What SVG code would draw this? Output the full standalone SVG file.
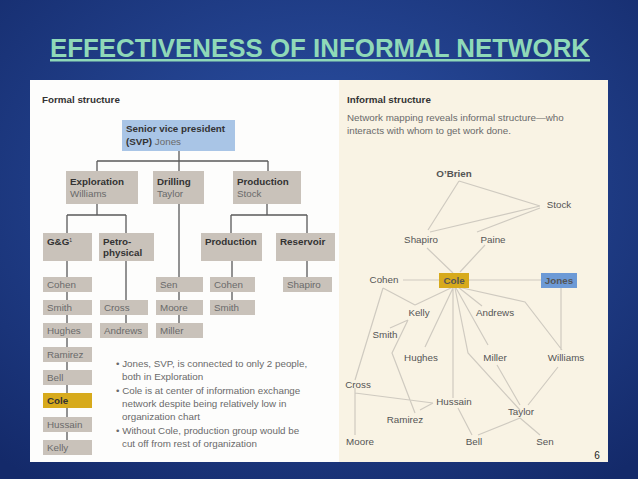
<svg xmlns="http://www.w3.org/2000/svg" width="638" height="479" viewBox="0 0 638 479">
<defs>
<radialGradient id="bg" cx="50%" cy="40%" r="75%"><stop offset="0" stop-color="#2d53a8"/><stop offset="1" stop-color="#142a6a"/></radialGradient>
<style>
text{font-family:"Liberation Sans",Arial,sans-serif}
.b{fill:#c9c2ba}
.t{font-size:9.8px;fill:#6a6a6a}
.tb{font-size:9.8px;font-weight:bold;fill:#333}
.n{font-size:9.8px;fill:#555;text-anchor:middle}
.ol{stroke:#5a5a5a;stroke-width:1.3;fill:none}
.il{stroke:#cfcac0;stroke-width:1.2;fill:none}
</style>
</defs>
<rect width="638" height="479" fill="url(#bg)"/>
<text x="50" y="57" textLength="540" lengthAdjust="spacingAndGlyphs" font-size="25" font-weight="bold" fill="#8fd9b8" text-decoration="underline">EFFECTIVENESS OF INFORMAL NETWORK</text>
<rect x="30" y="80" width="309" height="382" fill="#fdfdfc"/>
<rect x="339" y="80" width="269" height="382" fill="#f9f3e4"/>
<text x="42" y="103" class="tb" font-size="9">Formal structure</text>
<g id="formal-connectors">
<path class="ol" d="M179 151V161M97 161H268M97 161V171M179 161V171M268 161V171M97 204V215M67 215H126M67 215V233M126 215V233M267 204V215M231 215H307M231 215V233M307 215V233M179 204V277M67 261V455M126 261V300M126 315V323M179 292V323M232 261V300M307 261V277"/>
</g>
<g id="svp"><rect x="122" y="120" width="113" height="31" fill="#a9c5e6"/><text x="126" y="132" class="tb">Senior vice president</text><text x="126" y="145" class="tb">(SVP) <tspan font-weight="normal" fill="#6a6a6a">Jones</tspan></text></g>
<g id="exploration"><rect class="b" x="66" y="171" width="72" height="33"/><text x="70" y="185" class="tb">Exploration</text><text x="70" y="197" class="t">Williams</text></g>
<g id="drilling"><rect class="b" x="153" y="171" width="51" height="33"/><text x="157" y="185" class="tb">Drilling</text><text x="157" y="197" class="t">Taylor</text></g>
<g id="production"><rect class="b" x="233" y="171" width="68" height="33"/><text x="237" y="185" class="tb">Production</text><text x="237" y="197" class="t">Stock</text></g>
<g id="gg"><rect class="b" x="43" y="233" width="49" height="28"/><text x="47" y="245" class="tb">G&amp;G<tspan font-size="5" dy="-3" font-weight="normal">1</tspan></text></g>
<g id="petro"><rect class="b" x="99" y="233" width="55" height="28"/><text x="103" y="245" class="tb">Petro-</text><text x="103" y="256" class="tb">physical</text></g>
<g id="prod2"><rect class="b" x="201" y="233" width="61" height="28"/><text x="205" y="245" class="tb">Production</text></g>
<g id="reservoir"><rect class="b" x="276" y="233" width="59" height="28"/><text x="280" y="245" class="tb">Reservoir</text></g>
<g id="gg-members">
<rect class="b" x="43" y="277" width="49" height="15"/><text x="47" y="288" class="t">Cohen</text>
<rect class="b" x="43" y="300" width="49" height="15"/><text x="47" y="311" class="t">Smith</text>
<rect class="b" x="43" y="323" width="49" height="15"/><text x="47" y="334" class="t">Hughes</text>
<rect class="b" x="43" y="347" width="49" height="15"/><text x="47" y="358" class="t">Ramirez</text>
<rect class="b" x="43" y="370" width="49" height="15"/><text x="47" y="381" class="t">Bell</text>
<rect x="43" y="393" width="49" height="15" fill="#d7aa1c"/><text x="47" y="404" class="tb">Cole</text>
<rect class="b" x="43" y="417" width="49" height="15"/><text x="47" y="428" class="t">Hussain</text>
<rect class="b" x="43" y="440" width="49" height="15"/><text x="47" y="451" class="t">Kelly</text>
</g>
<g id="petro-members">
<rect class="b" x="100" y="300" width="48" height="15"/><text x="104" y="311" class="t">Cross</text>
<rect class="b" x="100" y="323" width="48" height="15"/><text x="104" y="334" class="t">Andrews</text>
</g>
<g id="drilling-members">
<rect class="b" x="156" y="277" width="47" height="15"/><text x="160" y="288" class="t">Sen</text>
<rect class="b" x="156" y="300" width="47" height="15"/><text x="160" y="311" class="t">Moore</text>
<rect class="b" x="156" y="323" width="47" height="15"/><text x="160" y="334" class="t">Miller</text>
</g>
<g id="prod-members">
<rect class="b" x="210" y="277" width="45" height="15"/><text x="214" y="288" class="t">Cohen</text>
<rect class="b" x="210" y="300" width="45" height="15"/><text x="214" y="311" class="t">Smith</text>
</g>
<g id="res-members"><rect class="b" x="283" y="277" width="49" height="15"/><text x="287" y="288" class="t">Shapiro</text></g>
<g id="notes">
<text x="116" y="367" class="t">• Jones, SVP, is connected to only 2 people,</text>
<text x="122" y="380" class="t">both in Exploration</text>
<text x="116" y="394" class="t">• Cole is at center of information exchange</text>
<text x="122" y="407" class="t">network despite being relatively low in</text>
<text x="122" y="420" class="t">organization chart</text>
<text x="116" y="434" class="t">• Without Cole, production group would be</text>
<text x="122" y="447" class="t">cut off from rest of organization</text>
</g>
<text x="347" y="103" class="tb" font-size="9">Informal structure</text>
<text x="347" y="121" class="t" fill="#666">Network mapping reveals informal structure—who</text>
<text x="347" y="134" class="t" fill="#666">interacts with whom to get work done.</text>
<g id="informal-connectors">
<path class="il" d="M459 181L428 230M459 181L540 206M430 232L540 206M477 232L540 208M427 248L453 273M485 245L460 272M403 280H439M469 280H541M383 288L415 305M383 288L355 380M453 287L415 305M408 320L390 328M408 320L392 353L415 413M453 288L425 347M453 288V398M455 288L468 353L520 410M456 288L488 345M497 365L520 405M458 287L482 306M458 287L525 302L562 350M561 287V350M558 367L528 405M520 418L478 435M520 418L540 435M458 408L472 435M355 388V435M355 393L433 403M420 410L433 403"/>
</g>
<g id="obrien"><text x="454" y="177" class="n" font-weight="bold" fill="#222">O’Brien</text></g>
<g id="stock"><text x="559" y="208" class="n">Stock</text></g>
<g id="shapiro"><text x="421" y="243" class="n">Shapiro</text></g>
<g id="paine"><text x="493" y="243" class="n">Paine</text></g>
<g id="cohen"><text x="384" y="283" class="n">Cohen</text></g>
<g id="cole"><rect x="439" y="273" width="30" height="15" fill="#d7aa1c"/><text x="454" y="284" class="n" font-weight="bold" fill="#222">Cole</text></g>
<g id="jones"><rect x="541" y="273" width="36" height="15" fill="#6d9ad6"/><text x="559" y="284" class="n" font-weight="bold" fill="#1a2a50">Jones</text></g>
<g id="kelly"><text x="419" y="316" class="n">Kelly</text></g>
<g id="andrews"><text x="495" y="316" class="n">Andrews</text></g>
<g id="smith"><text x="385" y="338" class="n">Smith</text></g>
<g id="hughes"><text x="421" y="361" class="n">Hughes</text></g>
<g id="miller"><text x="495" y="361" class="n">Miller</text></g>
<g id="williams"><text x="566" y="361" class="n">Williams</text></g>
<g id="cross"><text x="358" y="388" class="n">Cross</text></g>
<g id="hussain"><text x="454" y="405" class="n">Hussain</text></g>
<g id="taylor"><text x="521" y="415" class="n">Taylor</text></g>
<g id="ramirez"><text x="405" y="423" class="n">Ramirez</text></g>
<g id="moore"><text x="360" y="445" class="n">Moore</text></g>
<g id="bell"><text x="474" y="445" class="n">Bell</text></g>
<g id="sen"><text x="545" y="445" class="n">Sen</text></g>
<text x="597" y="459" font-size="10" fill="#222" text-anchor="middle">6</text>
</svg>
